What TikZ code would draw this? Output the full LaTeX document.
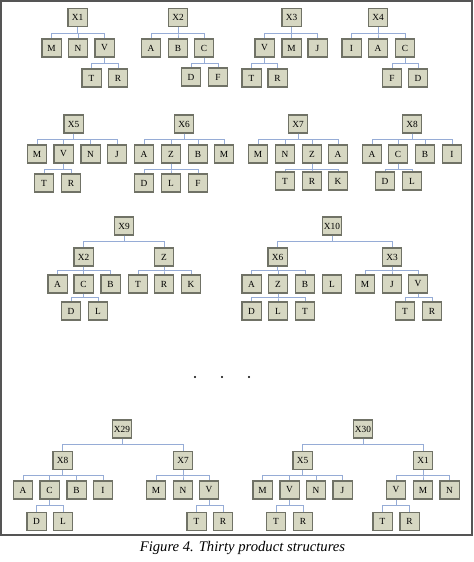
\documentclass[tikz,border=0pt]{standalone}
\usepackage{fontspec}
\setmainfont{Liberation Serif}

\definecolor{boxfill}{RGB}{214,215,194}
\definecolor{boxline}{RGB}{112,114,102}
\definecolor{linkblue}{RGB}{150,172,214}
\definecolor{framegray}{RGB}{85,85,85}

\tikzset{
    part/.style={draw=boxline, fill=boxfill, line width=1pt,
        minimum width=14.5pt, minimum height=13.5pt, inner sep=0pt,
        font=\fontsize{7}{8}\selectfont},
    link/.style={draw=linkblue, line width=0.6pt},
}

\begin{document}
\begin{tikzpicture}[x=0.75pt, y=-0.75pt]
        \useasboundingbox (0,0) rectangle (474,562);
        \draw[framegray, line width=1.5pt] (1,1) rectangle (472,535);

        % X1
        \node[part] (t1)   at (77.5,17.5) {X1};
        \node[part] (t1m)  at (51.5,48)   {M};
        \node[part] (t1n)  at (78,48)     {N};
        \node[part] (t1v)  at (104.5,48)  {V};
        \node[part] (t1vt) at (91.5,78)   {T};
        \node[part] (t1vr) at (118,78)    {R};
        \foreach \c in {t1m,t1n,t1v} \draw[link] (t1.south) -- ++(0,6) -| (\c.north);
        \foreach \c in {t1vt,t1vr} \draw[link] (t1v.south) -- ++(0,6) -| (\c.north);

        % X2
        \node[part] (t2)   at (178,17.5) {X2};
        \node[part] (t2a)  at (151,48)   {A};
        \node[part] (t2b)  at (178,48)   {B};
        \node[part] (t2c)  at (204,48)   {C};
        \node[part] (t2cd) at (191,77)   {D};
        \node[part] (t2cf) at (218,77)   {F};
        \foreach \c in {t2a,t2b,t2c} \draw[link] (t2.south) -- ++(0,6) -| (\c.north);
        \foreach \c in {t2cd,t2cf} \draw[link] (t2c.south) -- ++(0,6) -| (\c.north);

        % X3
        \node[part] (t3)   at (291.5,17.5) {X3};
        \node[part] (t3v)  at (264.5,48)   {V};
        \node[part] (t3m)  at (291.5,48)   {M};
        \node[part] (t3j)  at (317.5,48)   {J};
        \node[part] (t3vt) at (251.5,78)   {T};
        \node[part] (t3vr) at (277.5,78)   {R};
        \foreach \c in {t3v,t3m,t3j} \draw[link] (t3.south) -- ++(0,6) -| (\c.north);
        \foreach \c in {t3vt,t3vr} \draw[link] (t3v.south) -- ++(0,6) -| (\c.north);

        % X4
        \node[part] (t4)   at (378,17.5) {X4};
        \node[part] (t4i)  at (351.5,48)  {I};
        \node[part] (t4a)  at (378,48)    {A};
        \node[part] (t4c)  at (405,48)    {C};
        \node[part] (t4cf) at (392,78)    {F};
        \node[part] (t4cd) at (418,78)    {D};
        \foreach \c in {t4i,t4a,t4c} \draw[link] (t4.south) -- ++(0,6) -| (\c.north);
        \foreach \c in {t4cf,t4cd} \draw[link] (t4c.south) -- ++(0,6) -| (\c.north);

        % X5
        \node[part] (t5)   at (73.5,124) {X5};
        \node[part] (t5m)  at (37,154)   {M};
        \node[part] (t5v)  at (63.5,154) {V};
        \node[part] (t5n)  at (90.5,154) {N};
        \node[part] (t5j)  at (117,154)  {J};
        \node[part] (t5vt) at (44,183)   {T};
        \node[part] (t5vr) at (71,183)   {R};
        \foreach \c in {t5m,t5v,t5n,t5j} \draw[link] (t5.south) -- ++(0,6) -| (\c.north);
        \foreach \c in {t5vt,t5vr} \draw[link] (t5v.south) -- ++(0,6) -| (\c.north);

        % X6
        \node[part] (t6)   at (184,124) {X6};
        \node[part] (t6a)  at (144,154) {A};
        \node[part] (t6z)  at (171,154) {Z};
        \node[part] (t6b)  at (198,154) {B};
        \node[part] (t6m)  at (224,154) {M};
        \node[part] (t6zd) at (144,183) {D};
        \node[part] (t6zl) at (171,183) {L};
        \node[part] (t6zf) at (198,183) {F};
        \foreach \c in {t6a,t6z,t6b,t6m} \draw[link] (t6.south) -- ++(0,6) -| (\c.north);
        \foreach \c in {t6zd,t6zl,t6zf} \draw[link] (t6z.south) -- ++(0,6) -| (\c.north);

        % X7
        \node[part] (t7)   at (298,124) {X7};
        \node[part] (t7m)  at (258,154) {M};
        \node[part] (t7n)  at (285,154) {N};
        \node[part] (t7z)  at (312,154) {Z};
        \node[part] (t7a)  at (338,154) {A};
        \node[part] (t7zt) at (285,181) {T};
        \node[part] (t7zr) at (312,181) {R};
        \node[part] (t7zk) at (338,181) {K};
        \foreach \c in {t7m,t7n,t7z,t7a} \draw[link] (t7.south) -- ++(0,6) -| (\c.north);
        \foreach \c in {t7zt,t7zr,t7zk} \draw[link] (t7z.south) -- ++(0,6) -| (\c.north);

        % X8
        \node[part] (t8)   at (412,124) {X8};
        \node[part] (t8a)  at (372,154) {A};
        \node[part] (t8c)  at (398,154) {C};
        \node[part] (t8b)  at (425,154) {B};
        \node[part] (t8i)  at (452,154) {I};
        \node[part] (t8cd) at (385,181) {D};
        \node[part] (t8cl) at (412,181) {L};
        \foreach \c in {t8a,t8c,t8b,t8i} \draw[link] (t8.south) -- ++(0,6) -| (\c.north);
        \foreach \c in {t8cd,t8cl} \draw[link] (t8c.south) -- ++(0,6) -| (\c.north);

        % X9
        \node[part] (t9)    at (124,226)   {X9};
        \node[part] (t9x)   at (83.5,257)  {X2};
        \node[part] (t9z)   at (164,257)   {Z};
        \node[part] (t9xa)  at (57.5,284)  {A};
        \node[part] (t9xc)  at (83.5,284)  {C};
        \node[part] (t9xb)  at (110.5,284) {B};
        \node[part] (t9zt)  at (138,284)   {T};
        \node[part] (t9zr)  at (164,284)   {R};
        \node[part] (t9zk)  at (191,284)   {K};
        \node[part] (t9xcd) at (71,311)    {D};
        \node[part] (t9xcl) at (98,311)    {L};
        \foreach \c in {t9x,t9z} \draw[link] (t9.south) -- ++(0,6) -| (\c.north);
        \foreach \c in {t9xa,t9xc,t9xb} \draw[link] (t9x.south) -- ++(0,4) -| (\c.north);
        \foreach \c in {t9zt,t9zr,t9zk} \draw[link] (t9z.south) -- ++(0,4) -| (\c.north);
        \foreach \c in {t9xcd,t9xcl} \draw[link] (t9xc.south) -- ++(0,4) -| (\c.north);

        % X10
        \node[part] (t10)    at (332,226)   {X10};
        \node[part] (t10x)   at (277.5,257) {X6};
        \node[part] (t10y)   at (392,257)   {X3};
        \node[part] (t10xa)  at (251.5,284) {A};
        \node[part] (t10xz)  at (278,284)   {Z};
        \node[part] (t10xb)  at (305,284)   {B};
        \node[part] (t10l)   at (332,284)   {L};
        \node[part] (t10ym)  at (365,284)   {M};
        \node[part] (t10yj)  at (392,284)   {J};
        \node[part] (t10yv)  at (418,284)   {V};
        \node[part] (t10xzd) at (251.5,311) {D};
        \node[part] (t10xzl) at (278,311)   {L};
        \node[part] (t10xzt) at (305,311)   {T};
        \node[part] (t10yvt) at (405,311)   {T};
        \node[part] (t10yvr) at (432,311)   {R};
        \foreach \c in {t10x,t10y} \draw[link] (t10.south) -- ++(0,6) -| (\c.north);
        \foreach \c in {t10xa,t10xz,t10xb} \draw[link] (t10x.south) -- ++(0,4) -| (\c.north);
        \foreach \c in {t10ym,t10yj,t10yv} \draw[link] (t10y.south) -- ++(0,4) -| (\c.north);
        \foreach \c in {t10xzd,t10xzl,t10xzt} \draw[link] (t10xz.south) -- ++(0,4) -| (\c.north);
        \foreach \c in {t10yvt,t10yvr} \draw[link] (t10yv.south) -- ++(0,4) -| (\c.north);

        % dots
        \foreach \x in {195,222,249} \fill (\x,377) circle (1.1);

        % X29
        \node[part] (t29)    at (122,429)    {X29};
        \node[part] (t29x)   at (62.5,460.5) {X8};
        \node[part] (t29y)   at (183,460.5)  {X7};
        \node[part] (t29xa)  at (23,490)     {A};
        \node[part] (t29xc)  at (49.5,490)   {C};
        \node[part] (t29xb)  at (76.5,490)   {B};
        \node[part] (t29xi)  at (103,490)    {I};
        \node[part] (t29ym)  at (156,490)    {M};
        \node[part] (t29yn)  at (183,490)    {N};
        \node[part] (t29yv)  at (209,490)    {V};
        \node[part] (t29xcd) at (36.5,521.5) {D};
        \node[part] (t29xcl) at (63,521.5)   {L};
        \node[part] (t29yvt) at (196.5,521.5) {T};
        \node[part] (t29yvr) at (223,521.5)  {R};
        \foreach \c in {t29x,t29y} \draw[link] (t29.south) -- ++(0,6) -| (\c.north);
        \foreach \c in {t29xa,t29xc,t29xb,t29xi} \draw[link] (t29x.south) -- ++(0,5) -| (\c.north);
        \foreach \c in {t29ym,t29yn,t29yv} \draw[link] (t29y.south) -- ++(0,5) -| (\c.north);
        \foreach \c in {t29xcd,t29xcl} \draw[link] (t29xc.south) -- ++(0,6) -| (\c.north);
        \foreach \c in {t29yvt,t29yvr} \draw[link] (t29yv.south) -- ++(0,6) -| (\c.north);

        % X30
        \node[part] (t30)    at (363,429)    {X30};
        \node[part] (t30x)   at (302.5,460.5) {X5};
        \node[part] (t30y)   at (423,460.5)  {X1};
        \node[part] (t30xm)  at (262.5,490)  {M};
        \node[part] (t30xv)  at (289.5,490)  {V};
        \node[part] (t30xn)  at (316,490)    {N};
        \node[part] (t30xj)  at (342.5,490)  {J};
        \node[part] (t30yv)  at (396,490)    {V};
        \node[part] (t30ym)  at (423,490)    {M};
        \node[part] (t30yn)  at (449.5,490)  {N};
        \node[part] (t30xvt) at (276,521.5)  {T};
        \node[part] (t30xvr) at (303,521.5)  {R};
        \node[part] (t30yvt) at (382.5,521.5) {T};
        \node[part] (t30yvr) at (409.5,521.5) {R};
        \foreach \c in {t30x,t30y} \draw[link] (t30.south) -- ++(0,6) -| (\c.north);
        \foreach \c in {t30xm,t30xv,t30xn,t30xj} \draw[link] (t30x.south) -- ++(0,5) -| (\c.north);
        \foreach \c in {t30yv,t30ym,t30yn} \draw[link] (t30y.south) -- ++(0,5) -| (\c.north);
        \foreach \c in {t30xvt,t30xvr} \draw[link] (t30xv.south) -- ++(0,6) -| (\c.north);
        \foreach \c in {t30yvt,t30yvr} \draw[link] (t30yv.south) -- ++(0,6) -| (\c.north);

        % caption
        \node[font=\fontsize{11}{13}\selectfont\itshape] (caption) at (242.5,548) {Figure 4. Thirty product structures};
    \end{tikzpicture}
\end{document}
